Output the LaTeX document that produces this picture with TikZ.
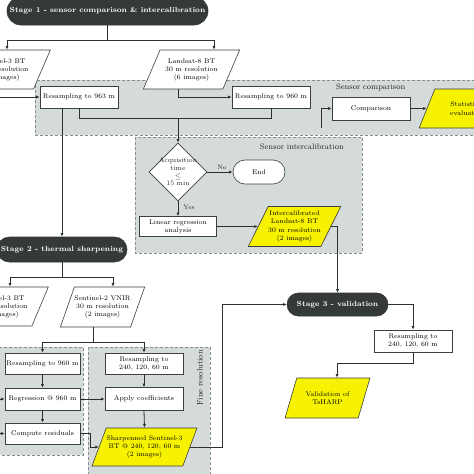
\documentclass[tikz,border=0pt]{standalone}
\usetikzlibrary{shapes.geometric,shapes.misc,arrows.meta,calc}
\definecolor{pillc}{RGB}{52,58,58}
\definecolor{regc}{RGB}{213,218,218}
\definecolor{dashc}{RGB}{135,142,142}
\definecolor{yel}{RGB}{246,242,0}
\definecolor{linec}{RGB}{45,48,48}
\definecolor{boxc}{RGB}{60,64,64}
\begin{document}
\begin{tikzpicture}[x=1pt,y=-1pt,
  box/.style={draw=boxc, fill=white, line width=0.6pt, inner sep=1pt, align=center, font=\fontsize{6.8}{8}\selectfont},
  para/.style={trapezium, trapezium left angle=58, trapezium right angle=122, trapezium stretches=true, draw=boxc, fill=white, line width=0.6pt, inner sep=0pt, align=center, font=\fontsize{6.8}{8}\selectfont},
  ypara/.style={para, fill=yel, font=\fontsize{6.8}{8.5}\selectfont},
  pill/.style={rounded rectangle, fill=pillc, draw=black!80, line width=0.6pt, text=white, font=\bfseries\fontsize{7.4}{8}\selectfont, inner sep=0pt},
  region/.style={fill=regc, draw=dashc, dash pattern=on 3pt off 2pt, line width=0.7pt},
  conn/.style={draw=linec, line width=0.8pt},
  arr/.style={conn, -{Latex[length=3.5pt,width=3pt]}},
  lab/.style={font=\fontsize{8}{9}\selectfont, text=black!85, inner sep=0pt},
  small/.style={font=\fontsize{6.5}{8}\selectfont, text=black!85, inner sep=0pt, align=center}]
\useasboundingbox (0,0) rectangle (474,474);
\clip (0,0) rectangle (474,474);
\fill[white] (0,0) rectangle (474,474);

% regions
\path[region] (35,80) rectangle (490,135);
\path[region] (135,137) rectangle (362,253);
\path[region] (-10,347) rectangle (83,455);
\path[region] (88,347) rectangle (210,490);
\node[lab, anchor=west] (sclab) at (336,87) {Sensor comparison};
\node[lab, anchor=east] (silab) at (344,147) {Sensor intercalibration};
\node[lab, rotate=90] (frlab) at (200,378) {Fine resolution};

% stage 1
\node[pill, minimum width=201pt, minimum height=28pt] (st1) at (107.5,11) {Stage 1 - sensor comparison \& intercalibration};
\coordinate (j1) at (107.5,40);
\coordinate (j1l) at (7,40);
\coordinate (j1r) at (214,40);
\node[para, minimum width=97pt, minimum height=39pt] (s3a) at (2,69.5) {Sentinel-3 BT\\1 km resolution\\(2 images)};
\node[para, minimum width=97pt, minimum height=39pt] (l8) at (191.5,69.5) {Landsat-8 BT\\30 m resolution\\(6 images)};

\node[box, minimum width=78pt, minimum height=22pt] (r963) at (79,97) {Resampling to 963 m};
\node[box, minimum width=78pt, minimum height=22pt] (r960) at (271,97) {Resampling to 960 m};
\node[box, minimum width=78pt, minimum height=23pt] (comp) at (371,108.5) {Comparison};
\node[ypara, minimum width=97pt, minimum height=39pt] (stat) at (467.5,108.5) {Statistical\\evaluation};
\coordinate (j2) at (178,118);
\coordinate (cst) at (321,128);
\coordinate (s3out) at (-4,89);

% intercalibration
\node[diamond, draw=boxc, fill=white, line width=0.6pt, minimum width=58pt, minimum height=58pt, inner sep=0pt] (diam) at (178,172) {};
\node[small, font=\fontsize{6.8}{7.6}\selectfont] (diamt) at (diam.center) {Acquisition\\time\\$\leq$\\15 min};
\node[rounded rectangle, draw=boxc, fill=white, line width=0.6pt, minimum width=52pt, minimum height=24pt, inner sep=0pt, font=\fontsize{6.8}{8}\selectfont] (end) at (259,172) {End};
\node[small] (no) at (222,167) {No};
\node[box, minimum width=77pt, minimum height=20pt] (lin) at (178,226.5) {Linear regression\\analysis};
\node[small] (yes) at (189,207) {Yes};
\node[ypara, minimum width=85pt, minimum height=40pt] (inter) at (294.5,226.5) {Intercalibrated\\Landsat-8 BT\\30 m resolution\\(2 images)};

% stage 2
\node[pill, minimum width=130pt, minimum height=25pt] (st2) at (62,249.5) {Stage 2 - thermal sharpening};
\coordinate (j3) at (62,277);
\coordinate (j3l) at (10,277);
\coordinate (j3r) at (113,277);
\node[para, minimum width=95pt, minimum height=39pt] (s3b) at (1,306.5) {Sentinel-3 BT\\1 km resolution\\(2 images)};
\node[para, minimum width=85pt, minimum height=40pt] (s2) at (102.5,307) {Sentinel-2 VNIR\\30 m resolution\\(2 images)};
\coordinate (j4) at (93,342);
\coordinate (j4l) at (42.5,342);
\coordinate (j4r) at (144,342);

\node[box, minimum width=75pt, minimum height=21pt] (rc1) at (42.5,363.5) {Resampling to 960 m};
\node[box, minimum width=75pt, minimum height=22pt] (rc2) at (42.5,399) {Regression @ 960 m};
\node[box, minimum width=75pt, minimum height=21pt] (rc3) at (42.5,433.5) {Compute residuals};
\node[box, minimum width=78pt, minimum height=21pt] (rf1) at (144,363.5) {Resampling to\\240, 120, 60 m};
\node[box, minimum width=78pt, minimum height=23pt] (rf2) at (144,399) {Apply coefficients};
\node[ypara, minimum width=105pt, minimum height=38pt, font=\fontsize{6.8}{8}\selectfont] (sharp) at (144.5,447) {Sharpenned Sentinel-3\\BT @ 240, 120, 60 m\\(2 images)};
\coordinate (c1) at (-5,399);
\coordinate (c2) at (-5,433.5);
\coordinate (j7) at (222,304.5);

% stage 3
\node[pill, minimum width=101pt, minimum height=23pt] (st3) at (337.5,304.5) {Stage 3 - validation};
\node[box, minimum width=78pt, minimum height=22pt] (res3) at (413,341) {Resampling to\\240, 120, 60 m};
\coordinate (j5) at (337,363);
\node[ypara, minimum width=85pt, minimum height=40pt] (valid) at (327.5,398) {Validation of\\TsHARP};

% connectors stage 1
\draw[conn] (st1.south) -- (j1);
\draw[conn] (j1l) -- (j1r);
\draw[arr] (j1l) -- (j1l |- s3a.north);
\draw[arr] (j1r) -- (j1r |- l8.north);
\draw[arr] (s3out) |- (r963.west);
\draw[arr] (l8.south -| j2) |- (r960.west);
\draw[conn] (r963.south) |- (j2);
\draw[conn] (r960.south) |- (j2);
\draw[arr] (j2) -- (diam.north);
\draw[arr] (cst) |- (comp.west);
\draw[arr] (comp.east) -- (stat.west);
\draw[arr] (r963.south -| st2.north) -- (st2.north);
\draw[arr] (diam.east) -- (end.west);
\draw[arr] (diam.south) -- (lin.north);
\draw[arr] (lin.east) -- (inter.west);
\draw[arr] (inter.east) -| (st3.north);

% connectors stage 2
\draw[conn] (st2.south) -- (j3);
\draw[conn] (j3l) -- (j3r);
\draw[arr] (j3l) -- (j3l |- s3b.north);
\draw[arr] (j3r) -- (j3r |- s2.north);
\draw[conn] (j4 |- s2.south) -- (j4);
\draw[conn] (j4l) -- (j4r);
\draw[arr] (j4l) -- (rc1.north);
\draw[arr] (j4r) -- (rf1.north);
\draw[arr] (rc1) -- (rc2);
\draw[arr] (rc2) -- (rc3);
\draw[arr] (rf1) -- (rf2);
\draw[arr] (rf2.south) -- (sharp.north);
\draw[arr] (rc2.east) -- (rf2.west);
\draw[arr] (c1) -- (rc2.west);
\draw[arr] (c2) -- (rc3.west);
\draw[arr] (rc3.east) -- ++(10,0) |- (sharp.west);
\draw[arr] (sharp.east) -| (j7) -- (st3.west);

% connectors stage 3
\draw[arr] (st3.east) -| (res3.north);
\draw[conn] (res3.south) |- (j5);
\draw[arr] (j5) -- (j5 |- valid.north);
\end{tikzpicture}
\end{document}
